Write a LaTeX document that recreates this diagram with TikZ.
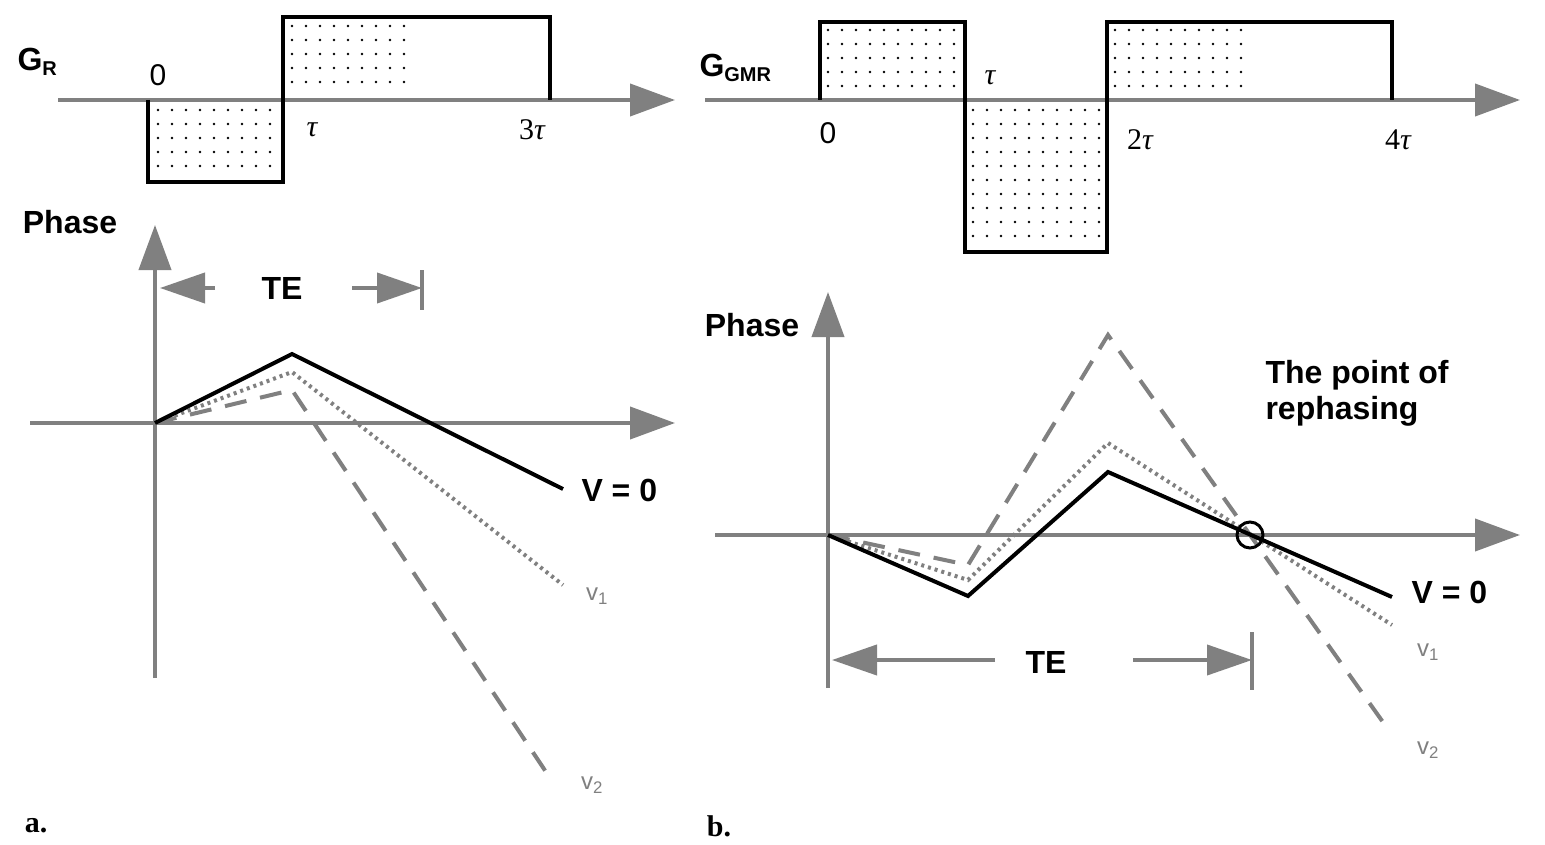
\documentclass[tikz,border=0pt]{standalone}
\usepackage{fontspec}
\setmainfont{Liberation Sans}
\newfontfamily\serif{Liberation Serif}
\usetikzlibrary{arrows.meta}
\definecolor{ax}{RGB}{128,128,128}
\newcommand{\mydots}[4]{\foreach \xx in {#1,...,#2}{\foreach \yy in {#3,...,#4}{\fill (\xx,\yy) circle (1.3);}}}
\begin{document}
\begin{tikzpicture}[x=1pt,y=-1pt,
 axis/.style={ax,line width=4,-{Triangle[length=45,width=32]}},
 tea/.style={ax,line width=4,-{Triangle[length=45,width=30]}},
 rect/.style={black,line width=3.5},
 lab/.style={font=\fontsize{32}{36}\selectfont\bfseries},
 num/.style={font=\fontsize{30}{34}\selectfont},
 vv/.style={ax,font=\fontsize{24}{28}\selectfont},
 vz/.style={black,line width=4},
 vone/.style={ax,line width=4,dash pattern=on 3 off 4},
 vtwo/.style={ax,line width=4,dash pattern=on 22 off 14}]
\useasboundingbox (0,0) rectangle (1545,845);
\fill[white] (0,0) rectangle (1545,845);
% ---- panel a
\mydots{158,172}{276}{110,124}{176}
\mydots{292,306}{410}{26,40}{94}
\draw[axis] (58,100) -- (675,100);
\draw[rect] (148,100) -- (148,182) -- (283,182) -- (283,17) -- (550,17) -- (550,100);
\node[lab,anchor=west] (gr) at (14,62) {G\textsubscript{\fontsize{20}{22}\selectfont R}};
\node[num] (a0) at (158,75) {0};
\node[num] (at) at (312,130) {\serif\itshape τ};
\node[num] (a3) at (532,130) {\serif 3\itshape τ};
\node[lab] (pha) at (70,222) {Phase};
\draw[axis] (155,678) -- (155,225);
\draw[axis] (30,423) -- (675,423);
\node[lab] (tea) at (282,288) {TE};
\draw[tea] (215,288) -- (160,288);
\draw[tea] (352,288) -- (422,288);
\draw[ax,line width=4] (422,270) -- (422,310);
\draw[vtwo] (155,423) -- (292,390) -- (548,775);
\draw[vone] (155,423) -- (292,372) -- (563,585);
\draw[vz] (155,423) -- (292,354) -- (563,489);
\node[lab,anchor=west] (av0) at (578,490) {V = 0};
\node[vv] (av1) at (597,596) {v\textsubscript{1}};
\node[vv] (av2) at (592,785) {v\textsubscript{2}};
\node[font=\fontsize{30}{34}\selectfont\bfseries\serif] (la) at (36,826) {a.};
% ---- panel b
\mydots{828,842}{958}{30,44}{94}
\mydots{973,987}{1100}{110,124}{246}
\mydots{1115,1129}{1245}{30,44}{94}
\draw[axis] (705,100) -- (1520,100);
\draw[rect] (820,100) -- (820,22) -- (965,22) -- (965,252) -- (1107,252) -- (1107,22) -- (1392,22) -- (1392,100);
\node[lab,anchor=west] (ggmr) at (696,68) {G\textsubscript{\fontsize{20}{22}\selectfont GMR}};
\node[num] (bt) at (990,78) {\serif\itshape τ};
\node[num] (b0) at (828,133) {0};
\node[num] (b2) at (1140,140) {\serif 2\itshape τ};
\node[num] (b4) at (1398,140) {\serif 4\itshape τ};
\node[lab] (phb) at (752,325) {Phase};
\draw[axis] (828,688) -- (828,292);
\draw[axis] (715,535) -- (1520,535);
\draw[vtwo] (828,535) -- (968,565) -- (1108,335) -- (1385,725);
\draw[vone] (828,535) -- (968,580) -- (1108,443) -- (1392,625);
\draw[vz] (828,535) -- (968,596) -- (1108,472) -- (1392,597);
\node[draw,circle,line width=3,minimum size=26,inner sep=0] (rp) at (1250,535) {};
\node[lab,align=left,anchor=west] (tpr) at (1262,393) {The point of\\rephasing};
\node[lab,anchor=west] (bv0) at (1408,592) {V = 0};
\node[vv] (bv1) at (1428,652) {v\textsubscript{1}};
\node[vv] (bv2) at (1428,750) {v\textsubscript{2}};
\node[lab] (teb) at (1046,662) {TE};
\draw[tea] (995,660) -- (832,660);
\draw[tea] (1133,660) -- (1252,660);
\draw[ax,line width=4] (1252,632) -- (1252,690);
\node[font=\fontsize{30}{34}\selectfont\bfseries\serif] (lb) at (719,826) {b.};
\end{tikzpicture}
\end{document}
